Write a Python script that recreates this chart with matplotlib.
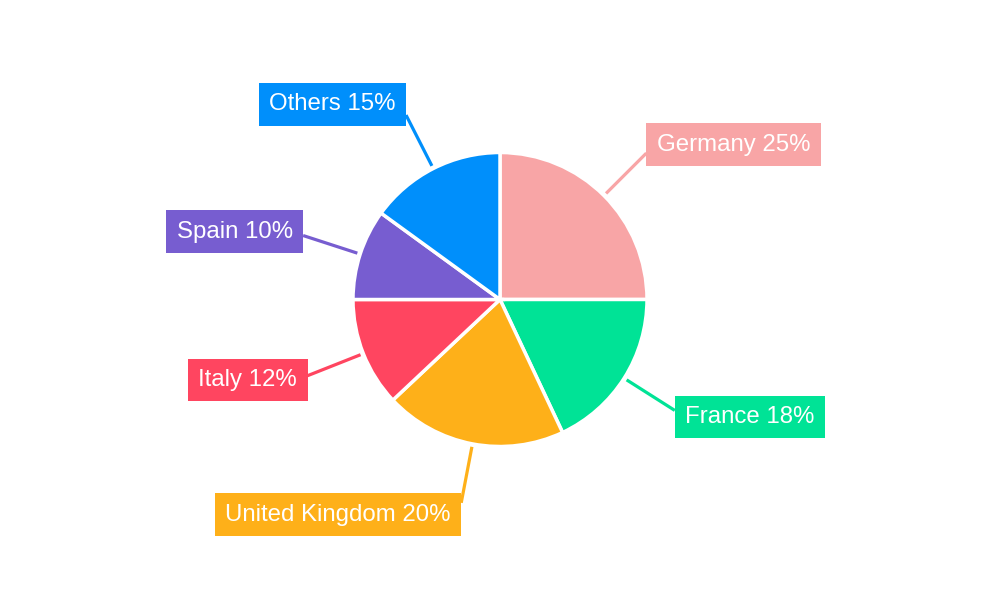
import numpy as np
import matplotlib
matplotlib.use("Agg")
import matplotlib.pyplot as plt

plt.rcParams['font.family'] = ['Liberation Sans', 'DejaVu Sans']

countries = ["Germany", "France", "United Kingdom", "Italy", "Spain", "Others"]
shares = [25, 18, 20, 12, 10, 15]
colors = ["#F8A5A6", "#00E396", "#FEB019", "#FF4560", "#775DD0", "#008FFB"]

fig = plt.figure(figsize=(10, 6), dpi=100)
ax = fig.add_axes([0, 0, 1, 1])

cx, cy, r = 500, 300.5, 147
ax.pie(shares, colors=colors, startangle=90, counterclock=False,
       radius=r, center=(cx, cy),
       wedgeprops=dict(edgecolor="white", linewidth=2.5))

ax.set_xlim(0, 1000)
ax.set_ylim(0, 600)
ax.set_aspect('equal')
ax.axis('off')

# leader lines + label boxes
fs = 17.3
pad = 0.43
pad_px = pad * fs * 100 / 72
total = sum(shares)
cum = np.cumsum([0] + shares)
for i, (name, v, c) in enumerate(zip(countries, shares, colors)):
    mid = (cum[i] + cum[i + 1]) / 2 / total
    ang = np.deg2rad(90 - 360 * mid)
    ca, sa = np.cos(ang), np.sin(ang)
    x0, y0 = cx + 150 * ca, cy + 150 * sa
    x1, y1 = cx + 207 * ca, cy + 207 * sa
    ax.plot([x0, x1], [y0, y1], color=c, lw=2.3, solid_capstyle='butt')
    ty = y1 + 12 * sa
    if ca >= 0:
        tx, ha = x1 + pad_px, 'left'
    else:
        tx, ha = x1 - pad_px, 'right'
    ax.text(tx, ty, f"{name} {v}%", ha=ha, va='center', fontsize=fs,
            color='white',
            bbox=dict(boxstyle=f"square,pad={pad}", facecolor=c, edgecolor='none'))

fig.savefig("out.png", dpi=100)
